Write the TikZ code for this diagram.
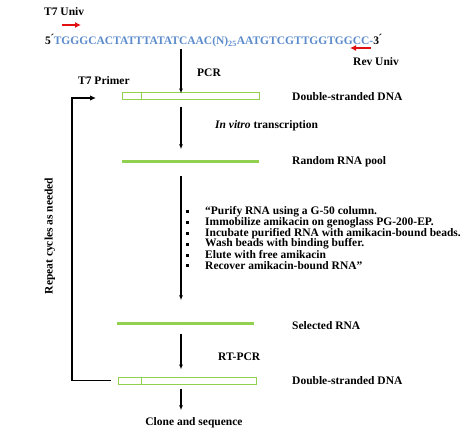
\documentclass[tikz,border=0pt]{standalone}
\usepackage{fontspec}
\setmainfont{Liberation Serif}
\usepackage{tikz}
\usepackage{xcolor}
\usetikzlibrary{arrows.meta}

\begin{document}
\begin{tikzpicture}[x=1pt,y=-1pt,font=\fontsize{11.5}{13}\selectfont\bfseries,
  dnabox/.style={draw=lgreen,line width=1pt,minimum width=137pt,minimum height=7pt,inner sep=0pt},
  rnaline/.style={fill=lgreen,minimum width=137pt,minimum height=3pt,inner sep=0pt},
  mylabel/.style={anchor=west,inner sep=0pt},
  flow/.style={-{Latex[length=5pt,width=4pt]},line width=1.2pt},
  primer/.style={-{Latex[length=6pt,width=6pt]},draw=pred,line width=2.6pt}]
\definecolor{seqblue}{HTML}{5B8BCB}
\definecolor{lgreen}{HTML}{92D050}
\definecolor{pred}{HTML}{E01010}
\useasboundingbox (0,0) rectangle (474,437);
\coordinate (axis) at (181,0);
% sequence and primers
\node[mylabel] (univ) at (44,12) {T7 Univ};
\node[mylabel] (seq) at (45,41) {5\'{}\textcolor{seqblue}{TGGGCACTATTTATATCAAC(N)\textsubscript{25}AATGTCGTTGGTGGCC-}3\'{}};
\node[mylabel] (rev) at (353,62) {Rev Univ};
\coordinate (fa) at (62,25);
\coordinate (fb) at (81,25);
\coordinate (ra) at (371,48);
\coordinate (rb) at (350,48);
\draw[primer] (fa) -- (fb);
\draw[primer] (ra) -- (rb);
% steps
\node[dnabox] (dna1) at (190.5,95.5) {};
\draw[lgreen,line width=1pt] ([xshift=20pt]dna1.north west) -- ([xshift=20pt]dna1.south west);
\node[mylabel] (prim) at (78,81) {T7 Primer};
\node[mylabel] (pcr) at (197,73) {PCR};
\node[mylabel] (ds1) at (292,97) {Double-stranded DNA};
\node[rnaline] (pool) at (190.5,161) {};
\node[mylabel] (ivt) at (215,126) {\textit{In vitro} transcription};
\node[mylabel] (pooltxt) at (292,162) {Random RNA pool};
\node[rnaline] (sel) at (185.5,323) {};
\node[mylabel] (seltxt) at (292,326) {Selected RNA};
\node[mylabel] (rtpcr) at (218,357) {RT-PCR};
\node[dnabox,minimum width=138pt] (dna2) at (187,380.5) {};
\draw[lgreen,line width=1pt] ([xshift=24pt]dna2.north west) -- ([xshift=24pt]dna2.south west);
\node[mylabel] (ds2) at (292,381) {Double-stranded DNA};
\node (clone) at (194,423) {Clone and sequence};
% selection steps
\foreach \txt [count=\i] in {``Purify RNA using a G-50 column.,
  Immobilize amikacin on genoglass PG-200-EP.,
  Incubate purified RNA with amikacin-bound beads.,
  Wash beads with binding buffer.,
  Elute with free amikacin,
  Recover amikacin-bound RNA''}
  { \node[mylabel] (b\i) at (205,201+10.8*\i) {\txt};
    \fill ([xshift=-18pt]b\i.west) ++(-1.5,-1.5) rectangle ++(3,3); }
% arrows
\draw[flow] (seq.south -| axis) ++(0,1) -- ([yshift=-2pt]dna1.north -| axis);
\draw[flow,shorten <=7pt,shorten >=10pt] (dna1.south -| axis) -- (pool.north -| axis);
\draw[flow,shorten <=13pt,shorten >=21pt] (pool.south -| axis) -- (sel.north -| axis);
\draw[flow,shorten <=9pt,shorten >=7pt] (sel.south -| axis) -- (dna2.north -| axis);
\draw[flow,shorten <=4pt,shorten >=4pt] (dna2.south -| axis) -- (clone.north -| axis);
% repeat loop
\coordinate (loopx) at (72,0);
\coordinate (ret) at (96,98);
\draw[-{Latex[length=6pt,width=5.5pt]},line width=1.3pt] ([xshift=-7pt]dna2.west) -| (ret -| loopx) -- (ret);
\node[rotate=90] (repeat) at (50,236) {Repeat cycles as needed};
\end{tikzpicture}
\end{document}
